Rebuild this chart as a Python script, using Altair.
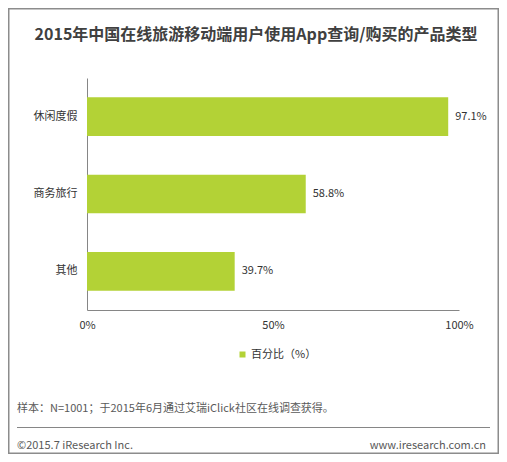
import altair as alt
import pandas as pd

categories = ["休闲度假", "商务旅行", "其他"]
values = [97.1, 58.8, 39.7]
x_ticks = [0, 50, 100]
series_name = "百分比（%）"
title_text = "2015年中国在线旅游移动端用户使用App查询/购买的产品类型"
note_text = "样本：N=1001；于2015年6月通过艾瑞iClick社区在线调查获得。"
footer_left = "©2015.7 iResearch Inc."
footer_right = "www.iresearch.com.cn"

df = pd.DataFrame({"cat": categories, "val": values, "series": [series_name] * len(categories)})
df["label"] = [f"{v:.1f}%" for v in values]

FONT = "Noto Sans CJK SC"
W, H = 372, 232
GRAY = "#868686"
TXT = "#333333"

base = alt.Chart(df)

y_enc = alt.Y(
    "cat:N", sort=categories,
    scale=alt.Scale(paddingInner=0.5, paddingOuter=0.25),
    axis=alt.Axis(title=None, ticks=False, labelPadding=10, labelFontSize=11,
                  labelColor=TXT, domainColor=GRAY, labelFont=FONT),
)
x_enc = alt.X(
    "val:Q", scale=alt.Scale(domain=[0, 100]),
    axis=alt.Axis(title=None, values=x_ticks, ticks=False, grid=False,
                  labelExpr="datum.value + '%'", labelPadding=9, labelFontSize=11,
                  labelFlush=False, domainColor=GRAY, labelColor=TXT, labelFont=FONT),
)

bars = base.mark_bar().encode(
    x=x_enc, y=y_enc,
    color=alt.Color("series:N",
                    scale=alt.Scale(domain=[series_name], range=["#b3d236"]),
                    legend=alt.Legend(title=None, orient="none", legendX=150, legendY=271,
                                      symbolType="square", symbolSize=36, symbolStrokeWidth=0,
                                      labelFontSize=11, labelFont=FONT, labelColor=TXT,
                                      labelOffset=3)),
)

labels = base.mark_text(align="left", baseline="middle", dx=7, fontSize=11,
                        font=FONT, color=TXT).encode(
    x="val:Q", y=alt.Y("cat:N", sort=categories), text="label:N")


def txt(s, x, y, **kw):
    return alt.Chart(pd.DataFrame({"t": [s]})).mark_text(font=FONT, baseline="middle", **kw).encode(
        x=alt.value(x), y=alt.value(y), text="t:N")


title = txt(title_text, 169, -43, fontSize=16, fontWeight="bold", color="#404040", align="center")
note = txt(note_text, -70, 331, fontSize=11, color="#595959", align="left")
foot1 = txt(footer_left, -70, 368, fontSize=11, color="#595959", align="left")
foot2 = txt(footer_right, 399, 368, fontSize=11, color="#595959", align="right")

rule = alt.Chart(pd.DataFrame({"a": [0]})).mark_rule(color=GRAY, strokeWidth=1).encode(
    x=alt.value(-70), x2=alt.value(403), y=alt.value(349.5))

border = alt.Chart(pd.DataFrame({"a": [0]})).mark_rect(
    fillOpacity=0, stroke="#8c8c8c", strokeWidth=1.5).encode(
    x=alt.value(-78.25), x2=alt.value(411.25), y=alt.value(-69.25), y2=alt.value(375.25))

chart = alt.layer(border, bars, labels, title, note, rule, foot1, foot2).properties(
    width=W, height=H,
    autosize=alt.AutoSizeParams(type="none"),
    padding={"left": 79, "top": 70, "right": 40, "bottom": 144},
).configure_view(stroke=None)

chart.save("out.html", embed_options={"renderer": "svg", "actions": False})
